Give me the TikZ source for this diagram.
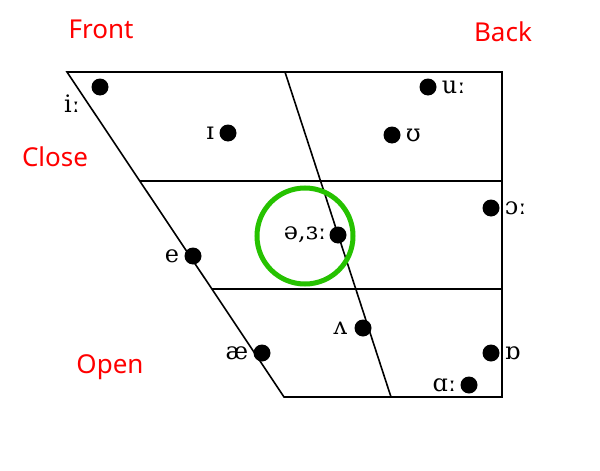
\documentclass[tikz,border=0pt]{standalone}
\usepackage{fontspec}
\usetikzlibrary{positioning}
\setmainfont{DejaVu Serif}
\newfontfamily\headfont{Noto Sans}
\begin{document}
\begin{tikzpicture}[x=1pt,y=-1pt,
    dot/.style={circle,fill=black,inner sep=0pt,minimum size=17pt},
    head/.style={text=red,font=\headfont\fontsize{26}{26}\selectfont},
    vowel/.style={font=\fontsize{24}{24}\selectfont,inner sep=1pt},
    edge/.style={line width=1.6pt}]
    \useasboundingbox (0,0) rectangle (600,471);

    \coordinate (tl) at (67,72);
    \coordinate (tm) at (285,72);
    \coordinate (tr) at (502,72);
    \coordinate (br) at (502,397);
    \coordinate (bm) at (391,397);
    \coordinate (bl) at (284,397);
    \coordinate (ml) at (140,181);
    \coordinate (mr) at (502,181);
    \coordinate (ll) at (212,289);
    \coordinate (lr) at (502,289);

    \draw[edge] (tl) -- (tr) -- (br) -- (bl) -- cycle;
    \draw[edge] (tm) -- (bm);
    \draw[edge] (ml) -- (mr);
    \draw[edge] (ll) -- (lr);

    \draw[line width=5pt,green!70!black!80!lime] (305,236) circle (48);

    \node[head] (front) at (101,29) {Front};
    \node[head] (back) at (503,32) {Back};
    \node[head] (close) at (55,157) {Close};
    \node[head] (open) at (110,367) {Open};

    \node[dot] (i) at (100,87) {};
    \node[dot] (I) at (228,133) {};
    \node[dot] (u) at (428,87) {};
    \node[dot] (U) at (392,135) {};
    \node[dot] (o) at (491,208) {};
    \node[dot] (schwa) at (338,235) {};
    \node[dot] (e) at (193,256) {};
    \node[dot] (v) at (363,328) {};
    \node[dot] (ae) at (262,353) {};
    \node[dot] (Q) at (491,353) {};
    \node[dot] (A) at (469,385) {};

    \node[vowel] (li) at (72,104) {iː};
    \node[vowel,left=4pt of I] (lI) {ɪ};
    \node[vowel,right=4pt of u] (lu) {uː};
    \node[vowel,right=4pt of U] (lU) {ʊ};
    \node[vowel,right=4pt of o] (lo) {ɔː};
    \node[vowel,left=2pt of schwa] (lschwa) {ə,ɜː};
    \node[vowel,left=4pt of e] (le) {e};
    \node[vowel,left=6pt of v] (lv) {ʌ};
    \node[vowel,left=4pt of ae] (lae) {æ};
    \node[vowel,right=4pt of Q] (lQ) {ɒ};
    \node[vowel,left=3pt of A] (lA) {ɑː};
\end{tikzpicture}
\end{document}
